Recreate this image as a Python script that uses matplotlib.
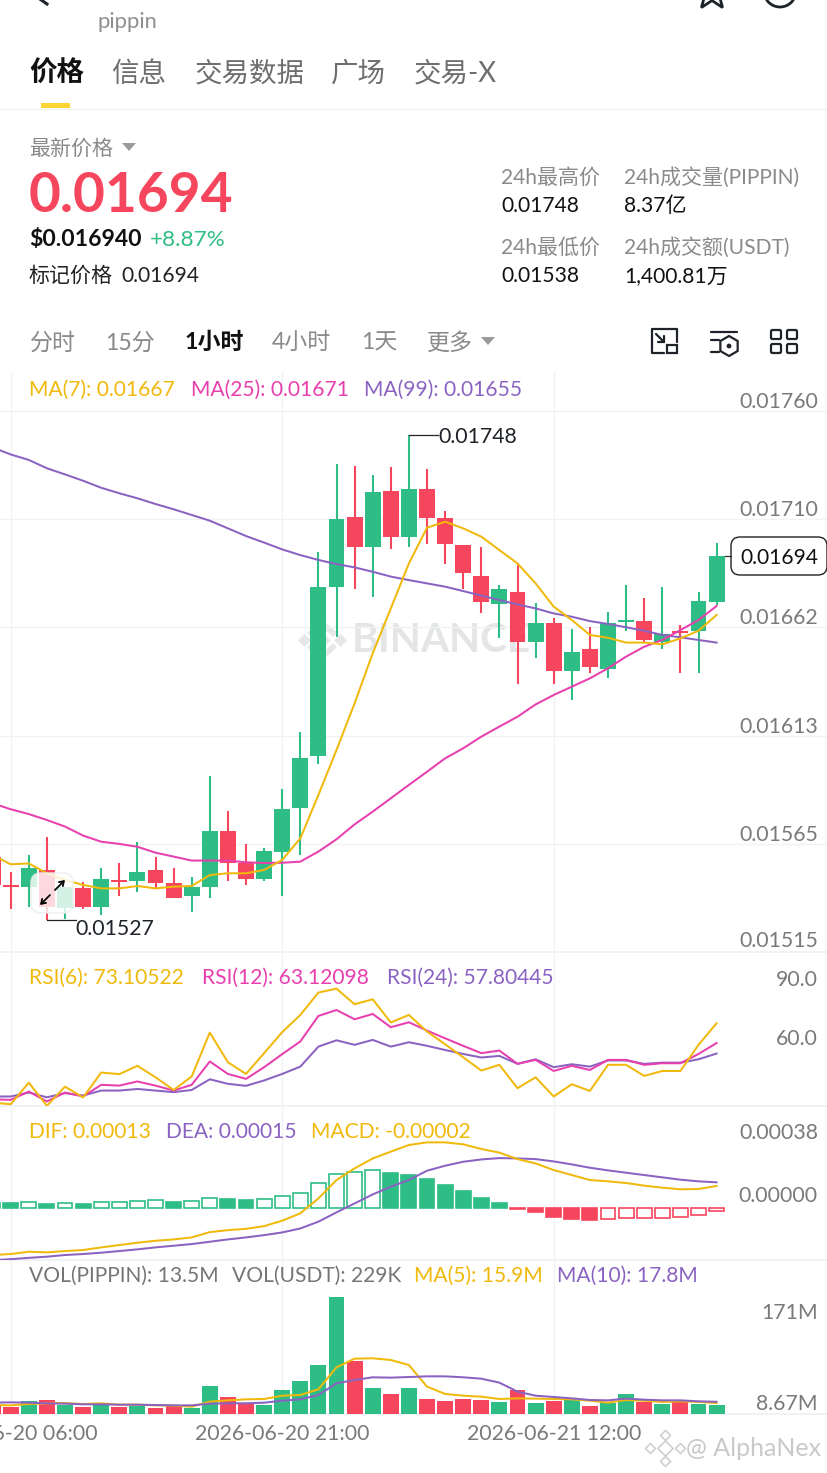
import numpy as np
import matplotlib
matplotlib.use('Agg')
import matplotlib.pyplot as plt
from matplotlib.patches import FancyBboxPatch, Polygon, Circle, RegularPolygon, Rectangle
from matplotlib.transforms import ScaledTranslation

FONT = ['Lato', 'Noto Sans CJK SC', 'DejaVu Sans']
plt.rcParams['font.family'] = FONT

# ---------- data (prices in units of 1e-5 USDT, volume in millions) ----------
candle_index = np.arange(-1, 40)
price_open = [1555.7,1542.9,1542.2,1549.8,1532.3,1541.7,1533.0,1545.2,1544.9,1549.8,1543.7,1537.9,1541.9,1567.7,1552.8,1545.7,1557.8,1577.9,1601.9,1679.0,1710.9,1696.9,1722.5,1701.5,1723.5,1710.2,1698.0,1683.8,1670.9,1676.7,1653.6,1662.5,1640.5,1650.4,1641.4,1662.7,1663.5,1653.9,1658.6,1658.8,1671.8]
price_close = [1542.9,1542.0,1550.8,1533.0,1542.2,1533.0,1545.5,1544.5,1548.7,1544.0,1536.9,1541.9,1567.7,1552.8,1545.7,1558.6,1577.7,1600.7,1679.0,1709.8,1696.9,1722.0,1701.5,1723.5,1710.4,1698.3,1685.1,1671.8,1677.8,1653.6,1662.5,1640.5,1649.3,1642.3,1662.4,1663.6,1654.7,1657.4,1657.7,1672.6,1693.0]
price_high = [1555.7,1548.9,1556.6,1565.0,1542.2,1544.4,1550.6,1552.8,1562.7,1555.6,1550.6,1546.7,1592.8,1576.7,1561.6,1559.7,1586.7,1612.7,1694.9,1734.9,1734.0,1729.9,1733.7,1748.0,1732.6,1713.5,1698.0,1697.2,1679.7,1689.9,1671.7,1664.5,1659.5,1660.5,1667.6,1679.7,1673.7,1678.7,1661.5,1676.7,1699.0]
price_low = [1542.9,1532.0,1533.0,1527.0,1527.4,1532.0,1529.3,1537.9,1539.9,1541.4,1536.9,1530.8,1536.9,1544.8,1542.9,1544.8,1537.9,1556.6,1598.0,1656.2,1677.9,1674.3,1696.2,1697.2,1698.3,1689.2,1677.9,1666.8,1655.7,1634.5,1646.6,1634.5,1627.3,1639.5,1637.5,1658.8,1653.6,1650.6,1639.5,1639.5,1670.6]
ma7 = [1556.6,1552.4,1552.8,1548.3,1545.2,1543.0,1541.4,1541.4,1542.5,1541.4,1542.2,1542.5,1547.5,1548.3,1548.3,1549.8,1554.4,1564.2,1584.0,1604.5,1625.8,1648.6,1669.1,1689.6,1705.9,1708.6,1705.6,1701.8,1695.7,1689.6,1680.5,1669.9,1663.8,1657.0,1655.7,1653.5,1653.5,1652.7,1655.4,1658.9,1666.1]
ma25 = [1580.2,1577.5,1575.3,1572.6,1569.6,1565.5,1562.7,1561.7,1560.4,1557.7,1555.9,1554.1,1554.1,1554.1,1553.3,1553.0,1553.1,1553.6,1558.2,1563.8,1570.6,1576.4,1582.5,1588.6,1594.6,1600.7,1605.3,1610.6,1615.2,1619.7,1625.3,1629.6,1633.4,1637.2,1641.8,1647.1,1651.6,1654.7,1659.2,1663.8,1670.2]
ma99 = [1742.5,1739.3,1736.8,1733.0,1730.2,1727.3,1724.1,1721.6,1719.3,1716.7,1714.3,1711.7,1709.1,1705.6,1702.1,1699.1,1696.0,1693.4,1691.2,1689.3,1687.8,1685.8,1683.6,1682.0,1680.5,1679.0,1677.0,1674.9,1672.9,1670.9,1669.1,1666.8,1665.3,1663.3,1662.0,1660.5,1658.9,1657.0,1655.9,1654.7,1653.5]
rsi6 = [33.0,32.2,43.1,31.4,41.1,35.6,48.2,47.4,51.6,45.8,39.4,46.2,68.4,53.4,47.5,58.0,68.6,77.3,88.6,90.6,82.7,85.2,73.5,77.3,68.9,62.5,55.9,49.2,52.1,40.3,45.8,36.1,42.3,38.9,52.1,52.1,46.5,49.0,49.0,62.2,73.1]
rsi12 = [34.7,34.4,38.6,33.6,38.1,36.1,42.0,41.6,43.7,41.6,39.1,42.0,53.8,47.5,45.0,50.9,57.5,63.9,76.8,79.8,75.1,77.8,71.1,73.6,69.4,65.5,61.7,58.0,59.3,52.6,54.6,49.0,51.6,49.5,54.6,54.6,52.1,52.9,52.9,57.6,63.1]
rsi24 = [36.1,36.1,38.1,35.7,37.8,36.6,39.1,39.1,39.9,39.1,38.3,39.4,44.8,42.5,41.5,44.2,47.5,51.2,61.3,64.5,62.2,64.7,61.3,63.5,61.7,59.6,57.6,55.8,56.6,52.6,54.9,50.9,52.4,51.2,54.3,54.3,52.6,53.2,53.2,54.9,57.8]
macd_hist = [2.8,2.6,3.6,2.2,3.0,2.2,3.2,3.6,4.2,4.4,3.6,3.8,5.8,5.4,4.8,5.4,7.0,9.0,15.1,20.1,21.5,22.7,20.7,19.7,17.5,13.9,10.1,5.6,3.0,-1.0,-2.6,-5.6,-6.6,-7.4,-7.0,-6.4,-6.4,-6.0,-5.6,-4.2,-2.2]
dif = [-28.5,-27.9,-26.5,-26.9,-26.1,-25.5,-23.9,-22.5,-21.1,-19.9,-19.1,-17.9,-14.7,-13.5,-12.7,-11.1,-7.8,-3.4,5.6,16.7,23.7,29.7,33.8,37.8,39.4,39.4,38.2,35.4,33.2,29.3,26.7,22.7,19.7,16.7,15.9,14.9,13.3,12.1,11.1,11.3,13.1]
dea = [-31.6,-31.0,-30.2,-29.5,-28.5,-27.9,-27.1,-26.1,-25.1,-23.9,-22.9,-21.9,-20.5,-19.1,-17.9,-16.5,-14.9,-12.5,-8.4,-2.8,2.6,8.0,12.7,16.7,22.3,25.3,27.7,29.1,29.9,29.7,29.3,27.9,26.1,24.1,22.5,21.1,19.7,18.3,16.9,15.9,15.3]
volume = [12.6,10.7,19.0,20.9,13.6,9.7,13.1,10.2,12.2,8.7,11.2,9.2,41.3,24.3,15.6,12.6,35.5,47.6,71.0,171.0,77.8,37.4,29.6,37.4,21.9,19.4,22.4,19.9,17.5,35.0,16.5,19.4,20.9,11.2,16.0,28.7,17.0,14.1,17.5,15.1,13.5]
vol_ma5 = [13.1,12.6,14.6,15.6,16.0,14.6,15.6,13.6,13.6,12.6,12.2,10.7,18.0,19.9,21.4,21.9,26.7,27.7,36.0,68.0,80.7,81.2,78.7,71.4,39.9,29.2,26.7,25.3,21.9,22.8,22.4,21.9,21.4,19.4,16.5,20.4,19.4,17.5,18.5,17.5,15.9]
vol_ma10 = [16.5,17.0,16.5,15.6,15.1,14.1,14.1,13.6,13.6,13.1,12.6,12.6,15.1,15.6,15.6,16.5,19.4,21.4,27.7,44.7,49.6,53.5,53.0,53.9,54.9,54.9,53.5,51.5,45.7,32.6,26.7,24.8,22.8,20.4,19.9,22.4,20.9,19.9,19.9,18.5,17.8]
time_ticks = [0, 15, 30]
time_labels = ['2026-06-20 06:00', '2026-06-20 21:00', '2026-06-21 12:00']
price_ticks = [1759.1, 1709.8, 1660.6, 1610.9, 1561.6, 1512.4]
price_tick_labels = ['0.01760', '0.01710', '0.01662', '0.01613', '0.01565', '0.01515']
rsi_ticks = [90, 60]
rsi_tick_labels = ['90.0', '60.0']
macd_ticks = [38, 0]
macd_tick_labels = ['0.00038', '0.00000']

GREEN, RED = '#2EBD85', '#F6465D'
ORANGE, PINK, PURPLE = '#F0B90B', '#E83FAE', '#8A63C2'
GRID = '#F1F2F4'
GRAY = '#757575'
TICK = '#7A7A7A'
LW = 1.45
W, H = 828, 1473
TS = 15.3

fig = plt.figure(figsize=(W / 100, H / 100), dpi=100, facecolor='white')


def pixel_axes(z):
    a = fig.add_axes([0, 0, 1, 1], zorder=z)
    a.set_xlim(0, W)
    a.set_ylim(H, 0)
    a.axis('off')
    a.patch.set_visible(False)
    return a


bg = pixel_axes(0)
top = pixel_axes(5)


def T(a, x, y, s, px, color='#1E2329', weight='normal', ha='left', **kw):
    return a.text(x, y + 1.7, s, fontsize=px * 0.72, color=color, fontweight=weight, ha=ha,
                  va='center', family=FONT, **kw)


def panel(y1, y2, ylim):
    a = fig.add_axes([0, 1 - y2 / H, 1, (y2 - y1) / H], zorder=2)
    a.patch.set_visible(False)
    a.set_xlim((0 - 10.7) / 18.1, (W - 10.7) / 18.1)
    a.set_ylim(*ylim)
    for s in a.spines.values():
        s.set_visible(False)
    a.set_xticks(time_ticks)
    a.tick_params(axis='x', length=0, labelbottom=False)
    a.grid(axis='x', color=GRID, lw=1.0, zorder=0)
    a.set_axisbelow(True)
    a.yaxis.tick_right()
    a.tick_params(axis='y', length=0, pad=-7.2, labelcolor=TICK, labelsize=TS)
    return a


def shift_labels(a, dy_px):
    """Move y tick labels down by the given pixels (one value per label)."""
    for lab, d in zip(a.get_yticklabels(), dy_px):
        lab.set_transform(lab.get_transform() + ScaledTranslation(0, -d / 100, fig.dpi_scale_trans))


x = candle_index
U = 1e-5
# ---------- price panel ----------
ax = panel(372, 952, (1512.4 * U, 1776.9 * U))
ax.set_yticks(np.array(price_ticks) * U, labels=price_tick_labels, ha='right', va='bottom')
shift_labels(ax, [1, 1, 1, 1, 1, -1])
ax.grid(axis='y', color=GRID, lw=1.0, zorder=0)
o, c, hi, lo = [np.array(v) * U for v in (price_open, price_close, price_high, price_low)]
cols = [GREEN if b >= a else RED for a, b in zip(o, c)]
ax.vlines(x, lo, hi, colors=cols, lw=1.5, zorder=2)
ax.bar(x, np.maximum(np.abs(c - o), 1.6e-6), bottom=np.minimum(o, c), width=0.88, color=cols, zorder=3)
ax.plot(x, np.array(ma99) * U, color=PURPLE, lw=LW, zorder=4)
ax.plot(x, np.array(ma25) * U, color=PINK, lw=LW, zorder=4)
ax.plot(x, np.array(ma7) * U, color=ORANGE, lw=LW, zorder=4)
ax.plot([22, 23.6], [1748 * U] * 2, color='#222222', lw=0.9, zorder=5)
ax.text(23.65, 1747.2 * U, '0.01748', fontsize=TS, color='#1E2329', va='center', ha='left', zorder=6)
ax.plot([2, 3.6], [1527 * U] * 2, color='#222222', lw=0.9, zorder=5)
ax.text(3.6, 1523 * U, '0.01527', fontsize=TS, color='#1E2329', va='center', ha='left', zorder=6)

# ---------- RSI panel ----------
ax2 = panel(952, 1106, (31.3, 109.1))
ax2.set_yticks(rsi_ticks, labels=rsi_tick_labels, ha='right', va='bottom')
ax2.plot(x, rsi24, color=PURPLE, lw=LW, zorder=3)
ax2.plot(x, rsi12, color=PINK, lw=LW, zorder=3)
ax2.plot(x, rsi6, color=ORANGE, lw=LW, zorder=4)

# ---------- MACD panel ----------
ax3 = panel(1106, 1260, (-31.5 * U, 61.3 * U))
ax3.set_yticks(np.array(macd_ticks) * U, labels=macd_tick_labels, ha='right', va='bottom')
shift_labels(ax3, [-2, -2])
h = np.array(macd_hist) * U
prev = np.r_[np.nan, h[:-1]]
hollow = h >= prev
hcol = [GREEN if v >= 0 else RED for v in h]
face = ['white' if f else e for f, e in zip(hollow, hcol)]
ax3.bar(x, h, width=0.82, facecolor=face, edgecolor=hcol, lw=1.2, zorder=2)
ax3.plot(x, np.array(dea) * U, color=PURPLE, lw=LW, zorder=3)
ax3.plot(x, np.array(dif) * U, color=ORANGE, lw=LW, zorder=4)

# ---------- volume panel ----------
ax4 = panel(1260, 1414, (0, 224.5))
ax4.set_yticks([171, 8.67], labels=['171M', '8.67M'], ha='right')
lab = ax4.get_yticklabels()
lab[0].set_va('top')
lab[1].set_va('bottom')
shift_labels(ax4, [6, 6])
ax4.bar(x, volume, width=0.88, color=cols, zorder=2)
ax4.plot(x, vol_ma5, color=ORANGE, lw=LW, zorder=3)
ax4.plot(x, vol_ma10, color=PURPLE, lw=LW, zorder=4)
ax4.set_xticks(time_ticks, labels=time_labels)
ax4.tick_params(axis='x', labelbottom=True, labelcolor=TICK, labelsize=TS, pad=7.5)

# ---------- chrome: header ----------
bg.plot([37, 47], [-3, 4], color='#1E2329', lw=2.2)
ang = np.deg2rad(90 + 36 * np.arange(10))
rad = np.where(np.arange(10) % 2 == 0, 18, 7.5)
bg.add_patch(Polygon(np.c_[712 + rad * np.cos(ang), -7 - rad * np.sin(ang)], fill=False, ec='#1E2329', lw=2))
bg.add_patch(Circle((780, -9), 16, fill=False, ec='#1E2329', lw=2))
T(bg, 98, 20, 'pippin', 22, '#8E8E8E')
tabs = [(29, '价格'), (111.5, '信息'), (194.5, '交易数据'), (331, '广场'), (414, '交易-X')]
for i, (px, s) in enumerate(tabs):
    T(bg, px, 72, s, 27.5, '#111111' if i == 0 else '#6E6E6E', 'bold' if i == 0 else 'normal')
bg.add_patch(Rectangle((41, 103), 29, 5, color='#FCD535', lw=0))
bg.plot([0, W], [108.5, 108.5], color='#F3F3F3', lw=1)

T(bg, 29, 147, '最新价格', 21, '#8A8A8A')
bg.add_patch(Polygon([[122, 143], [136, 143], [129, 151]], color='#9A9A9A', lw=0))
T(bg, 29, 194, '0.01694', 55, RED, 'bold')
T(bg, 29, 238, '$0.016940', 23, '#111111', 'bold')
T(bg, 150, 238, '+8.87%', 22.5, GREEN)
T(bg, 29, 274, '标记价格', 21, '#222222')
T(bg, 121, 274, '0.01694', 21, '#222222')

T(bg, 501, 176, '24h最高价', 21, '#8A8A8A')
T(bg, 501, 204, '0.01748', 21, '#111111')
T(bg, 501, 246, '24h最低价', 21, '#8A8A8A')
T(bg, 501, 274, '0.01538', 21, '#111111')
T(bg, 624, 176, '24h成交量(PIPPIN)', 21, '#8A8A8A')
T(bg, 624, 204, '8.37亿', 21, '#111111')
T(bg, 624, 246, '24h成交额(USDT)', 21, '#8A8A8A')
T(bg, 624, 274, '1,400.81万', 21, '#111111')

for px, s, bold in [(29, '分时', 0), (105.5, '15分', 0), (184, '1小时', 1), (272, '4小时', 0), (361.5, '1天', 0), (426.5, '更多', 0)]:
    T(bg, px, 341, s, 23, '#111111' if bold else '#8A8A8A', 'bold' if bold else 'normal')
bg.add_patch(Polygon([[481, 337], [495, 337], [488, 345]], color='#9A9A9A', lw=0))

# toolbar icons
ink = dict(color='#1E2329', lw=1.6, solid_capstyle='round')
bg.plot([664, 652, 652, 677, 677, ], [353, 353, 329, 329, 342], **ink)
bg.add_patch(Rectangle((667, 345), 10, 8, fill=False, ec='#1E2329', lw=1.6))
bg.plot([656, 664], [334, 342], **ink)
bg.plot([658, 664, 664], [342, 342, 336], **ink)
bg.plot([711, 737], [332, 332], **ink)
bg.plot([711, 719], [340, 340], **ink)
bg.plot([711, 719], [352, 352], **ink)
bg.add_patch(RegularPolygon((729, 346), 6, radius=10, fill=False, ec='#1E2329', lw=1.6))
bg.add_patch(Circle((729, 346), 2.4, color='#1E2329', lw=0))
for gx in (771, 787):
    for gy in (330, 344):
        bg.add_patch(FancyBboxPatch((gx + 1, gy + 1), 8, 7, boxstyle='round,pad=1,rounding_size=1.5',
                                    fill=False, ec='#1E2329', lw=1.6))

# Binance watermark (behind the marks)
for (wx, wy, s) in [(304, 640, 45), (322, 640, 70), (340, 640, 45)]:
    bg.scatter([wx], [wy], marker='D', s=s, color='#E6E7E9', lw=0)
bg.plot([311, 322, 333], [633, 623, 633], color='#E6E7E9', lw=4)
bg.plot([311, 322, 333], [647, 657, 647], color='#E6E7E9', lw=4)
T(bg, 352, 638.5, 'BINANCE', 40.5, '#E4E5E7', 'bold')

# legends
T(top, 29, 388, 'MA(7): 0.01667', 21, ORANGE)
T(top, 191, 388, 'MA(25): 0.01671', 21, PINK)
T(top, 364, 388, 'MA(99): 0.01655', 21, PURPLE)
T(top, 29, 976, 'RSI(6): 73.10522', 21, ORANGE)
T(top, 202, 976, 'RSI(12): 63.12098', 21, PINK)
T(top, 387, 976, 'RSI(24): 57.80445', 21, PURPLE)
T(top, 29, 1130, 'DIF: 0.00013', 21, ORANGE)
T(top, 166, 1130, 'DEA: 0.00015', 21, PURPLE)
T(top, 311, 1130, 'MACD: -0.00002', 21, ORANGE)
T(top, 29, 1274, 'VOL(PIPPIN): 13.5M', 21, GRAY)
T(top, 232, 1274, 'VOL(USDT): 229K', 21, GRAY)
T(top, 414, 1274, 'MA(5): 15.9M', 21, ORANGE)
T(top, 557, 1274, 'MA(10): 17.8M', 21, PURPLE)

# panel dividers
for yy in (952, 1106, 1260, 1414):
    bg.plot([0, W], [yy, yy], color='#EEEFF1', lw=1.1)

# ---------- overlay ----------
top.plot([725, 731], [555.5, 555.5], color='#333333', lw=0.9)
top.add_patch(FancyBboxPatch((739, 545), 80, 22, boxstyle='round,pad=8,rounding_size=9',
                             fc='white', ec='#222222', lw=1))
T(top, 779, 556, '0.01694', 21, '#111111', ha='center')

top.add_patch(FancyBboxPatch((37, 879), 30, 28, boxstyle='round,pad=6,rounding_size=10',
                             fc='white', ec='#EDEDED', alpha=0.8, lw=1.2))
for a0, a1 in [((50, 895), (40, 905)), ((55, 890), (65, 880))]:
    top.annotate('', xy=a1, xytext=a0, arrowprops=dict(arrowstyle='->,head_length=0.3,head_width=0.2',
                                                       color='black', lw=1.3, shrinkA=0, shrinkB=0))

# bottom-right watermark
for (wx, wy, s) in [(650, 1448, 26), (665, 1448, 60), (680, 1448, 26), (665, 1435, 26), (665, 1461, 26)]:
    top.scatter([wx], [wy], marker='D', s=s, facecolor='white', edgecolor='#CFCFCF', lw=1.2)
T(top, 686, 1447, '@ AlphaNex', 25, '#C9C9C9')

fig.savefig('out.png', dpi=100, facecolor='white')
